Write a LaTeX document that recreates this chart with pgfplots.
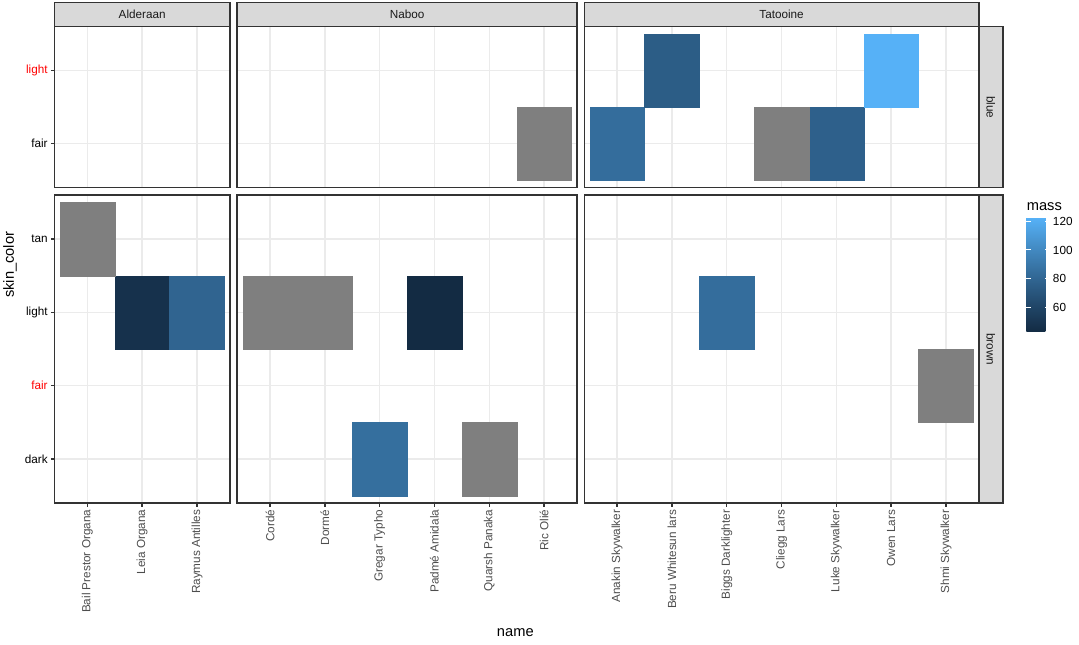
\documentclass[border=0pt]{standalone}
\usepackage{fontspec}
\setmainfont{Liberation Sans}
\usepackage{pgfplots}
\pgfplotsset{compat=1.18}

\definecolor{gray20}{HTML}{333333}
\definecolor{gray10}{HTML}{1A1A1A}
\definecolor{gray30}{HTML}{4D4D4D}
\definecolor{gridgray}{HTML}{EBEBEB}
\definecolor{stripgray}{HTML}{D9D9D9}
\definecolor{nagray}{HTML}{7F7F7F}
\definecolor{ggred}{HTML}{FF0000}

\newcommand{\axfont}{\fontsize{8.8}{10.56}\selectfont}
\newcommand{\ttlfont}{\fontsize{11}{13.2}\selectfont}

\pgfplotsset{
  colormap={ggblue}{rgb255=(19,43,67) rgb255=(34,73,108) rgb255=(51,106,152) rgb255=(68,141,198) rgb255=(86,177,247)},
  panel/.style={
    scale only axis, x=41.1pt, y=54.975pt, xmin=0.4, ymin=0.4,
    anchor=north west,
    axis line style={draw=gray20, line width=1.07pt},
    grid=major, major grid style={draw=gridgray, line width=1.07pt},
    tick align=outside, major tick length=2.75pt,
    tick style={draw=gray20, line width=1.07pt},
    xtick pos=bottom, ytick pos=left,
    point meta min=45, point meta max=120, colormap name=ggblue,
    tick label style={font=\axfont},
  },
  notx/.style={xtick style={draw=none}, xticklabels={}},
  noty/.style={ytick style={draw=none}, yticklabels={}},
  xlab/.style={xticklabel style={yshift=-2.2pt, rotate=90, anchor=east, inner sep=0pt, text=gray30}},
  ylab/.style={yticklabel style={xshift=-2.2pt, anchor=east, inner sep=0pt, text=black}},
  tile/.style={scatter, only marks, mark=square*, mark size=20.55pt,
    point meta=explicit,
    scatter/use mapped color={draw=mapped color, fill=mapped color},
    mark options={yscale=1.3376, line width=0.2pt}},
  natile/.style={only marks, mark=square*, mark size=20.55pt,
    mark options={yscale=1.3376, draw=nagray, fill=nagray, line width=0.2pt}},
}

\begin{document}
\begin{tikzpicture}
\path[use as bounding box] (0,0) rectangle (809.25pt,-483pt);

% ---- row: blue ----
\begin{axis}[panel, notx, ylab, name=A1, at={(40.875pt,-19.875pt)},
  xmax=3.6, ymax=2.6, xtick={1,2,3}, ytick={1,2},
  yticklabels={fair,\textcolor{ggred}{light}}]
\end{axis}

\begin{axis}[panel, notx, noty, name=N1, at={(177.9pt,-19.875pt)},
  xmax=6.6, ymax=2.6, xtick={1,...,6}, ytick={1,2}]
\addplot[natile] table {
x y
6 1
};
\end{axis}

\begin{axis}[panel, notx, noty, name=T1, at={(438.22pt,-19.875pt)},
  xmax=7.6, ymax=2.6, xtick={1,...,7}, ytick={1,2}]
\addplot[tile] table[meta=mass] {
x y mass
1 1 84
2 2 75
5 1 77
6 2 120
};
\addplot[natile] table {
x y
4 1
};
\end{axis}

% ---- row: brown ----
\begin{axis}[panel, xlab, ylab, name=A2, at={(40.875pt,-146.325pt)},
  xmax=3.6, ymax=4.6, xtick={1,2,3},
  xticklabels={Bail Prestor Organa,Leia Organa,Raymus Antilles},
  ytick={1,2,3,4}, yticklabels={dark,\textcolor{ggred}{fair},light,tan}]
\addplot[tile] table[meta=mass] {
x y mass
2 3 49
3 3 79
};
\addplot[natile] table {
x y
1 4
};
\end{axis}

\begin{axis}[panel, xlab, noty, name=N2, at={(177.9pt,-146.325pt)},
  xmax=6.6, ymax=4.6, xtick={1,...,6},
  xticklabels={Cordé,Dormé,Gregar Typho,Padmé Amidala,Quarsh Panaka,Ric Olié},
  ytick={1,2,3,4}]
\addplot[tile] table[meta=mass] {
x y mass
3 1 85
4 3 45
};
\addplot[natile] table {
x y
1 3
2 3
5 1
};
\end{axis}

\begin{axis}[panel, xlab, noty, name=T2, at={(438.22pt,-146.325pt)},
  xmax=7.6, ymax=4.6, xtick={1,...,7},
  xticklabels={Anakin Skywalker,Beru Whitesun lars,Biggs Darklighter,Cliegg Lars,Luke Skywalker,Owen Lars,Shmi Skywalker},
  ytick={1,2,3,4}]
\addplot[tile] table[meta=mass] {
x y mass
3 3 84
};
\addplot[natile] table {
x y
7 2
};
\end{axis}

% ---- colour bar ----
\begin{axis}[at={(761.25pt,-163.3pt)}, anchor=north west, scale only axis,
  width=17.5pt, height=85.5pt, hide axis, xmin=0, xmax=1, ymin=0, ymax=1,
  colormap name=ggblue, point meta min=43.4, point meta max=122.3, colorbar,
  colorbar style={at={(parent axis.north west)}, anchor=north west,
    xshift=0pt, yshift=0pt, width=17.5pt, height=85.5pt, scale only axis,
    axis on top, axis line style={draw=none},
    ytick={60,80,100,120}, ytick pos=both, yticklabel pos=right,
    tick align=inside, major tick length=3.3pt,
    tick style={draw=white, line width=0.8pt},
    yticklabel style={font=\axfont, text=black, anchor=west, inner sep=0pt, xshift=2.25pt,
      /pgf/number format/assume math mode=true}}]
\end{axis}

% ---- strips ----
\foreach \p/\t in {A1/Alderaan, N1/Naboo, T1/Tatooine}{
  \draw[fill=stripgray, draw=gray20, line width=1.07pt] (\p.north west) rectangle ([yshift=18pt]\p.north east);
  \node[font=\axfont, text=gray10] at ([yshift=9pt]\p.north) {\t};
}
\foreach \p/\t in {T1/blue, T2/brown}{
  \draw[fill=stripgray, draw=gray20, line width=1.07pt] (\p.north east) rectangle ([xshift=18pt]\p.south east);
  \node[font=\axfont, text=gray10, rotate=-90] at ([xshift=9pt]\p.east) {\t};
}

% ---- titles ----
\node[font=\ttlfont, rotate=90] at (7.5pt,-198.6pt) {skin\_color};
\node[font=\ttlfont] at (386.5pt,-474.75pt) {name};
\node[font=\ttlfont, anchor=base west, inner sep=0pt] at (769.9pt,-158pt) {mass};
\end{tikzpicture}
\end{document}
